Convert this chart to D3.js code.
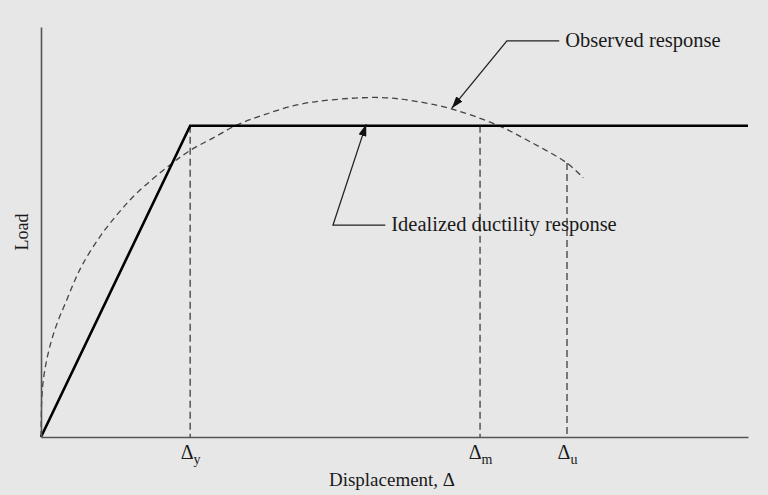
<!DOCTYPE html>
<html>
<head>
<meta charset="utf-8">
<script src="https://cdn.jsdelivr.net/npm/d3@7"></script>
<style>
  body { margin: 0; background: #e7e7e7; }
  svg { display: block; }
  text { font-family: "Liberation Serif", "DejaVu Serif", serif; fill: #1a1a1a; }
</style>
</head>
<body>
<svg id="chart"></svg>
<script>
// displacement / load in arbitrary units (0-100 on both axes)
const yieldDisp = 21.1, maxDisp = 62.1, ultDisp = 74.4;
const yieldLoad = 75.9;
const xMax = 100, yMax = 100;

const tickValues = [yieldDisp, maxDisp, ultDisp];
const tickSubs = ["y", "m", "u"];

// idealized elasto-plastic response
const idealDisp = [0, yieldDisp, xMax];
const idealLoad = [0, yieldLoad, yieldLoad];

const obsDisp = [0, 0.03, 0.1, 0.33, 0.81, 1.51, 2.45, 3.64, 4.81, 5.98, 8.35, 10.7, 13.5, 18.2, 21.1, 24.3, 27.7, 31.4, 36.2, 40.9, 47.9, 52.6, 58.1, 64.5, 69.2, 74.4, 76.7];
const obsLoad = [0, 4.1, 9.0, 13.9, 18.8, 23.7, 28.5, 33.4, 38.3, 42.4, 48.9, 54.1, 59.4, 66.3, 69.9, 72.9, 76.1, 78.5, 81.0, 82.2, 82.8, 82.0, 80.0, 76.1, 72.0, 66.8, 63.2];

// annotations: [tip, elbow, end of leader], label
const notes = [
  {label: "Observed response", pts: [[58.1, 80.2], [65.9, 96.6], [73.3, 96.6]]},
  {label: "Idealized ductility response", pts: [[46.0, 76.3], [41.3, 51.7], [48.7, 51.7]]}
];

const width = 768, height = 495;
const margin = {top: 27, right: 20, bottom: 58, left: 41};

const svg = d3.select("#chart")
    .attr("width", width)
    .attr("height", height);

let x = d3.scaleLinear()
    .domain([0, xMax])
    .range([margin.left, width - margin.right]);

let y = d3.scaleLinear()
    .domain([0, yMax])
    .range([height - margin.bottom, margin.top]);

svg.append("defs").append("marker")
    .attr("id", "head")
    .attr("viewBox", "0 0 12 8")
    .attr("refX", 12)
    .attr("refY", 4)
    .attr("markerWidth", 12)
    .attr("markerHeight", 8)
    .attr("markerUnits", "userSpaceOnUse")
    .attr("orient", "auto")
    .append("path")
    .attr("d", "M0,0 L12,4 L0,8 Z")
    .attr("fill", "#111");

// dashed drop lines
const drops = [
  {d: yieldDisp, top: yieldLoad},
  {d: maxDisp, top: yieldLoad},
  {d: ultDisp, top: obsLoad[obsDisp.indexOf(ultDisp)]}
];
svg.selectAll("line.drop")
    .data(drops)
    .enter()
    .append("line")
    .attr("class", "drop")
    .attr("x1", d => x(d.d))
    .attr("x2", d => x(d.d))
    .attr("y1", d => y(d.top))
    .attr("y2", y(0))
    .attr("stroke", "#555")
    .attr("stroke-width", 1.5)
    .attr("stroke-dasharray", "7,4");

// observed curve
svg.append("path")
    .datum(obsDisp.map((d, i) => [d, obsLoad[i]]))
    .attr("fill", "none")
    .attr("stroke", "#444")
    .attr("stroke-width", 1.3)
    .attr("stroke-dasharray", "6,4")
    .attr("d", d3.line()
        .x(d => x(d[0]))
        .y(d => y(d[1]))
        .curve(d3.curveCatmullRom.alpha(0.5)));

// idealized response
svg.append("path")
    .datum(idealDisp.map((d, i) => [d, idealLoad[i]]))
    .attr("fill", "none")
    .attr("stroke", "#000")
    .attr("stroke-width", 2.6)
    .attr("stroke-linejoin", "miter")
    .attr("d", d3.line().x(d => x(d[0])).y(d => y(d[1])));

// axes
let xAxis = svg.append("g")
    .attr("transform", "translate(0," + y(0) + ")")
    .call(d3.axisBottom(x)
        .tickValues(tickValues)
        .tickSize(0)
        .tickSizeOuter(0)
        .tickPadding(12)
        .tickFormat(() => ""));

xAxis.select(".domain").attr("stroke", "#555").attr("stroke-width", 1.6);

xAxis.selectAll(".tick text")
    .attr("font-family", "Liberation Serif, serif")
    .attr("fill", "#1a1a1a")
    .attr("dy", "0.95em")
    .each(function(d, i) {
        let t = d3.select(this);
        t.append("tspan").attr("font-size", 20).text("Δ");
        t.append("tspan").attr("font-size", 14).attr("dy", 5).text(tickSubs[i]);
    });

let yAxis = svg.append("g")
    .attr("transform", "translate(" + x(0) + ",0)")
    .call(d3.axisLeft(y).ticks(0).tickSizeOuter(0));

yAxis.select(".domain").attr("stroke", "#555").attr("stroke-width", 1.6);

svg.append("text")
    .attr("x", 392)
    .attr("y", 486)
    .attr("text-anchor", "middle")
    .attr("font-size", 19)
    .text("Displacement, Δ");

svg.append("text")
    .attr("transform", "translate(28," + 232 + ") rotate(-90)")
    .attr("text-anchor", "middle")
    .attr("font-size", 18)
    .text("Load");

// annotation leaders + labels
notes.forEach(n => {
    let p = n.pts.slice().reverse();
    svg.append("path")
        .attr("d", d3.line().x(d => x(d[0])).y(d => y(d[1]))(p))
        .attr("fill", "none")
        .attr("stroke", "#222")
        .attr("stroke-width", 1.3)
        .attr("marker-end", "url(#head)");
    svg.append("text")
        .attr("x", x(p[0][0]) + 6)
        .attr("y", y(p[0][1]))
        .attr("dy", "0.28em")
        .attr("font-size", 20.5)
        .text(n.label);
});
</script>
</body>
</html>
